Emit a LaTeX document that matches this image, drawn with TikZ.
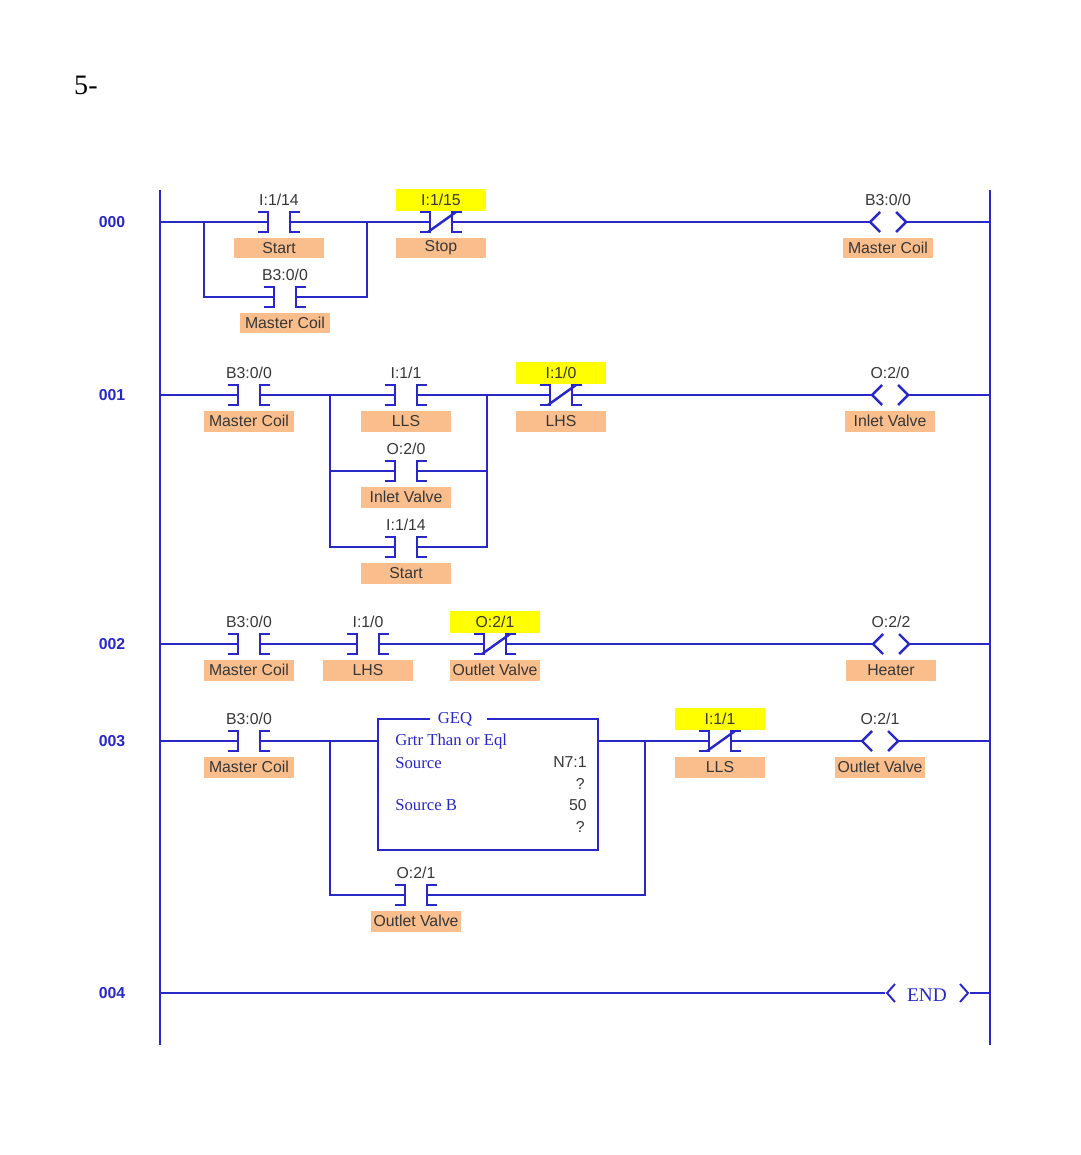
\documentclass[tikz,border=0pt]{standalone}
\usepackage{fontspec}
\setmainfont{Liberation Sans}
\newfontfamily\serifx{Liberation Serif}
\definecolor{lb}{RGB}{40,40,200}
\definecolor{lo}{RGB}{250,190,140}
\definecolor{ly}{RGB}{255,255,0}
\definecolor{lt}{RGB}{55,55,55}
\tikzset{
 wire/.style={draw=lb,line width=1.4pt},
 addr/.style={text=lt,font=\fontsize{9}{10}\selectfont,inner sep=1pt,minimum width=1.8cm,minimum height=0.44cm},
 lab/.style={fill=lo,text=lt,font=\fontsize{9}{10}\selectfont,inner sep=1pt,minimum width=1.8cm,minimum height=0.42cm},
 rn/.style={text=lb,font=\fontsize{9}{10}\selectfont\bfseries},
 geq/.style={text=lb,font=\serifx\fontsize{9.5}{10}\selectfont,inner sep=0pt},
}
\newcommand\noc[5]{%
 \fill[white] (#1-10.5,#2-1.5) rectangle (#1+10.5,#2+1.5);
 \draw[wire] (#1-21,#2-10) -- (#1-11,#2-10) -- (#1-11,#2+10) -- (#1-21,#2+10);
 \draw[wire] (#1+21,#2-10) -- (#1+11,#2-10) -- (#1+11,#2+10) -- (#1+21,#2+10);
 \node[addr,fill=#5] at (#1,#2-22) {#3};
 \node[lab] at (#1,#2+26) {#4};}
\newcommand\ncc[4]{\noc{#1}{#2}{#3}{#4}{ly}%
 \draw[wire] (#1-13,#2+10) -- (#1+15,#2-10);}
\newcommand\coil[4]{%
 \fill[white] (#1-18,#2-2) rectangle (#1+18,#2+2);
 \draw[wire] (#1-8,#2-10) -- (#1-18,#2) -- (#1-8,#2+10);
 \draw[wire] (#1+8,#2-10) -- (#1+18,#2) -- (#1+8,#2+10);
 \node[addr] at (#1,#2-22) {#3};
 \node[lab] at (#1,#2+26) {#4};}
\begin{document}
\begin{tikzpicture}[x=0.02cm,y=-0.02cm]
\useasboundingbox[fill=white] (0,0) rectangle (1080,1155);
\node[font=\serifx\fontsize{16}{18}\selectfont,anchor=west] (t) at (68,85) {5-};
% rails
\draw[wire] (160,190) -- (160,1045);
\draw[wire] (990,190) -- (990,1045);
% rung numbers
\node[rn] (r0) at (112,222) {000};
\node[rn] (r1) at (112,395) {001};
\node[rn] (r2) at (112,644) {002};
\node[rn] (r3) at (112,741) {003};
\node[rn] (r4) at (112,993) {004};
% rung 000
\draw[wire] (160,222) -- (990,222);
\draw[wire] (204,222) -- (204,297) -- (367,297) -- (367,222);
\noc{279}{222}{I:1/14}{Start}{white}
\noc{285}{297}{B3:0/0}{Master Coil}{white}
\ncc{441}{222}{I:1/15}{Stop}
\coil{888}{222}{B3:0/0}{Master Coil}
% rung 001
\draw[wire] (160,395) -- (990,395);
\draw[wire] (330,395) -- (330,547) -- (487,547) -- (487,395);
\draw[wire] (330,471) -- (487,471);
\noc{249}{395}{B3:0/0}{Master Coil}{white}
\noc{406}{395}{I:1/1}{LLS}{white}
\noc{406}{471}{O:2/0}{Inlet Valve}{white}
\noc{406}{547}{I:1/14}{Start}{white}
\ncc{561}{395}{I:1/0}{LHS}
\coil{890}{395}{O:2/0}{Inlet Valve}
% rung 002
\draw[wire] (160,644) -- (990,644);
\noc{249}{644}{B3:0/0}{Master Coil}{white}
\noc{368}{644}{I:1/0}{LHS}{white}
\ncc{495}{644}{O:2/1}{Outlet Valve}
\coil{891}{644}{O:2/2}{Heater}
% rung 003
\draw[wire] (160,741) -- (378,741);
\draw[wire] (598,741) -- (990,741);
\draw[wire] (330,741) -- (330,895) -- (645,895) -- (645,741);
\noc{249}{741}{B3:0/0}{Master Coil}{white}
\noc{416}{895}{O:2/1}{Outlet Valve}{white}
\ncc{720}{741}{I:1/1}{LLS}
\coil{880}{741}{O:2/1}{Outlet Valve}
\draw[wire] (430,719) -- (378,719) -- (378,850) -- (598,850) -- (598,719) -- (487,719);
\node[geq] (g) at (455,719) {GEQ};
\node[geq,anchor=west] (g1) at (395,741) {Grtr Than or Eql};
\node[geq,anchor=west] (g2) at (395,763) {Source};
\node[geq,anchor=west] (g3) at (395,805) {Source B};
\node[text=lt,font=\fontsize{9}{10}\selectfont,anchor=east,inner sep=0pt] (v1) at (587,762) {N7:1};
\node[text=lt,font=\fontsize{9}{10}\selectfont,anchor=east,inner sep=0pt] (v2) at (585,784) {?};
\node[text=lt,font=\fontsize{9}{10}\selectfont,anchor=east,inner sep=0pt] (v3) at (587,805) {50};
\node[text=lt,font=\fontsize{9}{10}\selectfont,anchor=east,inner sep=0pt] (v4) at (585,827) {?};
% rung 004
\draw[wire] (160,993) -- (885,993);
\draw[wire] (970,993) -- (990,993);
\draw[draw=lb,line width=1.1pt] (895,984) -- (887,993) -- (895,1002);
\draw[draw=lb,line width=1.1pt] (960,984) -- (968,993) -- (960,1002);
\node[geq,font=\serifx\fontsize{11}{12}\selectfont] (e) at (927,995) {END};
\end{tikzpicture}
\end{document}
